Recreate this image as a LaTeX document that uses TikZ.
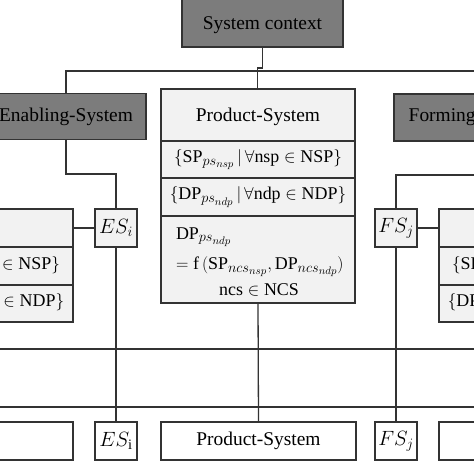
\documentclass[tikz,border=0pt]{standalone}
\usepackage{fontspec}
\setmainfont{Liberation Serif}
\setmathrm{Liberation Serif}
\DeclareMathSizes{18}{18}{14}{11}
\DeclareMathSizes{19.5}{19.5}{14.5}{11.5}
\definecolor{lc}{HTML}{333333}
\definecolor{dk}{HTML}{7C7C7C}
\definecolor{lt}{HTML}{F2F2F2}
\newcommand{\bigf}{\fontsize{19.5}{22}\selectfont}
\newcommand{\midf}{\fontsize{18}{21}\selectfont}
\newcommand{\lowr}[2]{\raisebox{-#1}[\height][\depth]{#2}}
\begin{document}
\begin{tikzpicture}[x=1bp,y=-1bp,line width=1.3bp,
  every node/.style={inner sep=0pt,outer sep=0pt},
  box/.style={draw=lc,rectangle,minimum height=38bp,font=\bigf},
  darkbox/.style={box,fill=dk,minimum width=160bp,minimum height=46bp},
  lightbox/.style={box,fill=lt,minimum width=194bp},
  rowbox/.style={box,fill=lt,minimum width=194bp,font=\midf},
  smallbox/.style={box,fill=lt,minimum width=42bp},
  botbox/.style={box,fill=white,minimum height=38bp},
  conn/.style={draw=lc,line width=1.3bp},
  txt/.style={font=\midf,anchor=west}]
\useasboundingbox (0,0) rectangle (474,474);
\clip (0,0) rectangle (474,474);
% top
\node[darkbox,minimum width=161bp,minimum height=51bp] (sc) at (262.5,21.5) {\lowr{3.5bp}{System context}};
\node[darkbox] (es) at (66,116.5) {Enabling-System};
\node[darkbox,minimum height=47bp] (fs) at (474,117.5) {Forming-System};
% product system
\node[lightbox,minimum height=52bp] (psh) at (258,115) {\lowr{2bp}{Product-System}};
\node[rowbox,minimum height=37bp] (ps1) at (258,159.5) {$\{\mathrm{SP}_{ps_{nsp}}\,|\,\forall\mathrm{nsp}\in\mathrm{NSP}\}$};
\node[rowbox,minimum height=38bp] (ps2) at (258,197) {$\{\mathrm{DP}_{ps_{ndp}}\,|\,\forall\mathrm{ndp}\in\mathrm{NDP}\}$};
\node[rowbox,minimum height=87bp] (ps3) at (258,259.5) {};
\node[txt] (f1) at (176,237) {$\mathrm{DP}_{ps_{ndp}}$};
\node[txt] (f2) at (176,267) {$=\mathrm{f}\,(\mathrm{SP}_{ncs_{nsp}},\mathrm{DP}_{ncs_{ndp}})$};
\node[font=\midf] (f3) at (259,290) {$\mathrm{ncs}\in\mathrm{NCS}$};
% left partial box
\node[rowbox,minimum height=38bp] (lb0) at (-24,228) {};
\node[rowbox,minimum height=38bp] (lb1) at (-24,266) {$\{\mathrm{SP}_{ps_{nsp}}\,|\,\forall\mathrm{nsp}\in\mathrm{NSP}\}$};
\node[rowbox,minimum height=37bp] (lb2) at (-24,303.5) {$\{\mathrm{DP}_{ps_{ndp}}\,|\,\forall\mathrm{ndp}\in\mathrm{NDP}\}$};
% right partial box
\node[rowbox,minimum height=38bp] (rb0) at (536,228) {};
\node[rowbox,minimum height=38bp] (rb1) at (536,266) {$\{\mathrm{SP}_{ps_{nsp}}\,|\,\forall\mathrm{nsp}\in\mathrm{NSP}\}$};
\node[rowbox,minimum height=37bp] (rb2) at (536,303.5) {$\{\mathrm{DP}_{ps_{ndp}}\,|\,\forall\mathrm{ndp}\in\mathrm{NDP}\}$};
% small boxes
\node[smallbox] (esi) at (116,228) {$ES_i$};
\node[smallbox] (fsj) at (396,228) {$FS_j$};
% bottom row
\node[botbox,minimum width=194bp] (bl) at (-24,441) {};
\node[botbox,minimum width=42bp] (besi) at (116,441) {$ES_{\mathrm{i}}$};
\node[botbox,minimum width=195bp] (bps) at (258.5,441) {Product-System};
\node[botbox,minimum width=42bp] (bfsj) at (396,441) {$FS_j$};
\node[botbox,minimum width=194bp] (br) at (536,441) {};
% coordinates
\coordinate (hl1) at (-5,349);
\coordinate (hr1) at (480,349);
\coordinate (hl2) at (-5,407);
\coordinate (hr2) at (480,407);
\coordinate (topr) at (480,71);
\coordinate (fsr) at (480,175);
% connectors
\draw[conn] (sc.south) -- (262.5,68) -- (257.5,68) -- (psh.north -| 257.5,0);
\draw[conn] (es.north) -- (66,71) -- (topr);
\draw[conn] (es.south) -- (66,174) -- (116,174) -- (esi.north);
\draw[conn] (esi.west) -- (lb0.east);
\draw[conn] (esi.south) -- (besi.north);
\draw[conn] (fsj.north) -- (396,175) -- (fsr);
\draw[conn] (fsj.east) -- (rb0.west);
\draw[conn] (fsj.south) -- (bfsj.north);
\draw[conn] (ps3.south) -- (bps.north);
\draw[conn] (hl1) -- (hr1);
\draw[conn] (hl2) -- (hr2);
\end{tikzpicture}
\end{document}
